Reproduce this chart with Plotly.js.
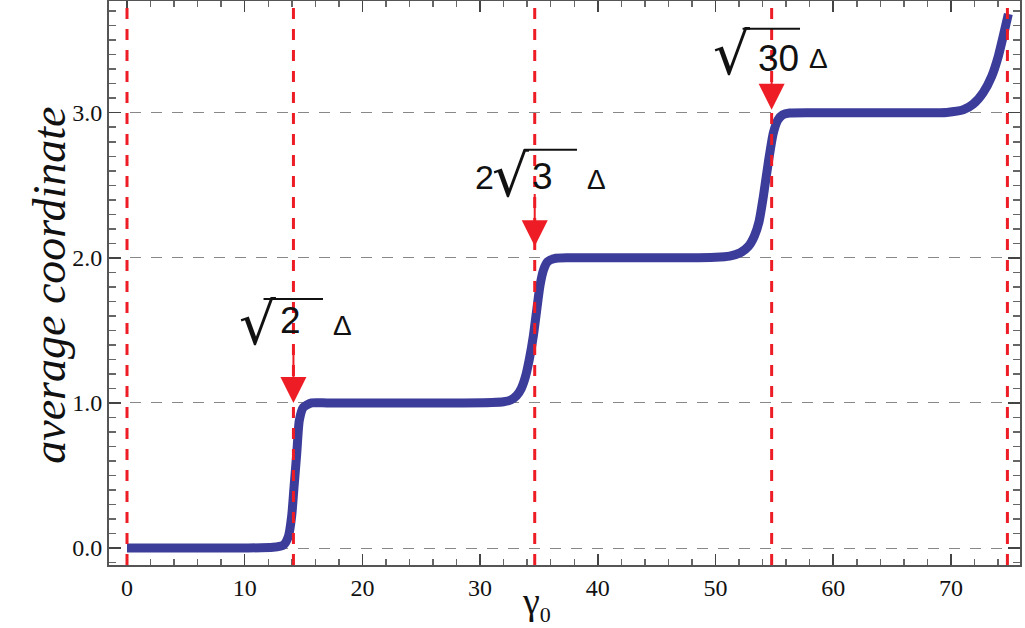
<!DOCTYPE html>
<html><head><meta charset="utf-8">
<script src="https://cdn.plot.ly/plotly-3.0.1.min.js"></script>
<style>html,body{margin:0;padding:0;background:#fff}</style>
</head><body><div id="chart" style="width:1025px;height:628px"></div>
<script>
// curve (gamma0 vs average coordinate)
const gamma0 = [0, 5, 10, 12.4, 13.28, 13.71, 13.99, 14.19, 14.42, 14.64, 14.98, 15.69, 17, 22, 28, 31,
  32.0, 32.6, 33.1, 33.5, 33.85, 34.18, 34.52, 34.81, 35.09, 35.4, 35.75, 36.3, 37.5, 42, 47,
  50.0, 51.2, 52.1, 52.8, 53.3, 53.7, 54.06, 54.49, 54.91, 55.3, 55.7, 56.3, 58.87, 63, 67,
  69.64, 71.05, 71.90, 72.75, 73.46, 74.03, 74.45, 74.88];
const avgCoord = [0, 0, 0, 0.005, 0.02, 0.08, 0.22, 0.42, 0.65, 0.88, 0.97, 1.0, 1.0, 1.0, 1.0, 1.003,
  1.008, 1.02, 1.05, 1.1, 1.18, 1.30, 1.46, 1.64, 1.81, 1.92, 1.975, 1.995, 2.0, 2.0, 2.0,
  2.004, 2.012, 2.035, 2.08, 2.15, 2.25, 2.42, 2.66, 2.86, 2.95, 2.985, 2.998, 3.0, 3.0, 3.0,
  3.002, 3.02, 3.06, 3.14, 3.25, 3.39, 3.53, 3.68];
// vertical red reference lines
const refLines = [0, 14.14, 34.64, 54.77, 74.8];
// arrows: tip x, tip y, tail y
const arrowX = [14.14, 34.64, 54.77];
const arrowTipY = [1.0, 2.08, 3.02];
const arrowTailY = [1.37, 2.45, 3.26];
// labels
const radPrefix = ['', '2', ''];
const radPrefixX = [0, 30.4, 0];
const radX = [11.05, 32.6, 51.4];
const radY = [1.545, 2.566, 3.407];
const radicand = ['2', '3', '30'];
const radicandX = [13.93, 35.34, 55.31];
const radicandY = [1.566, 2.559, 3.372];
const barX0 = [11.6, 33.75, 52.3];
const barX1 = [16.65, 38.23, 57.18];
const barY = [1.717, 2.745, 3.579];
const deltaX = [18.27, 39.93, 58.71];
const deltaY = [1.531, 2.538, 3.372];

const serif = '"Liberation Serif", "DejaVu Serif", serif';
const red = '#ee1c25';
const shapes = [];
refLines.forEach(v => shapes.push({type:'line', xref:'x', yref:'paper', x0:v, x1:v, y0:0, y1:1,
  line:{color:red, width:3, dash:'11px,10px'}, layer:'above'}));
for (let i = 0; i < barX0.length; i++) {
  shapes.push({type:'line', xref:'x', yref:'y', x0:barX0[i], x1:barX1[i], y0:barY[i], y1:barY[i],
    line:{color:'#111', width:2}});
}
const annotations = [];
for (let i = 0; i < arrowX.length; i++) {
  annotations.push({x:arrowX[i], y:arrowTipY[i], ax:arrowX[i], ay:arrowTailY[i], axref:'x', ayref:'y',
    xref:'x', yref:'y', text:'', showarrow:true, arrowhead:2, arrowsize:2.6, arrowwidth:2,
    arrowcolor:red, standoff:0});
  annotations.push({x:radX[i], y:radY[i], xref:'x', yref:'y', text:'√', showarrow:false,
    font:{family:'DejaVu Sans', size:58, color:'#111'}});
  annotations.push({x:radicandX[i], y:radicandY[i], xref:'x', yref:'y', text:radicand[i], showarrow:false,
    font:{family:'Liberation Sans', size:37, color:'#111'}});
  annotations.push({x:deltaX[i], y:deltaY[i], xref:'x', yref:'y', text:'Δ', showarrow:false,
    font:{family:'Liberation Sans', size:28, color:'#111'}});
  if (radPrefix[i]) annotations.push({x:radPrefixX[i], y:radicandY[i], xref:'x', yref:'y', text:radPrefix[i],
    showarrow:false, font:{family:'Liberation Sans', size:34, color:'#111'}});
}
annotations.push({xref:'paper', yref:'paper', x:-0.0955, y:0.496, text:'<i>average coordinate</i>',
  textangle:-90, showarrow:false, font:{family:serif, size:46, color:'#111'}});
annotations.push({xref:'x', yref:'paper', x:34.8, y:-0.068, yanchor:'middle', xanchor:'center',
  text:'γ<sub><span style="font-size:22px">0</span></sub>',
  showarrow:false, font:{family:serif, size:38, color:'#111'}});

const trace = {x:gamma0, y:avgCoord, mode:'lines', line:{color:'#3c3c9a', width:9, shape:'spline', smoothing:0.6},
  hoverinfo:'skip'};

const axisCommon = {showline:true, linecolor:'#555', linewidth:2, mirror:'ticks', ticks:'inside',
  tickcolor:'#444', tickwidth:1.5, zeroline:false,
  tickfont:{family:serif, size:24, color:'#111'}};

const layout = {
  width:1025, height:628, margin:{l:109, r:5, t:1, b:63},
  paper_bgcolor:'#fff', plot_bgcolor:'#fff', showlegend:false,
  font:{family:serif},
  xaxis: Object.assign({}, axisCommon, {range:[-1.53, 75.87], dtick:10, tick0:0, ticklen:11,
    showgrid:false, minor:{dtick:2, ticklen:6, tickcolor:'#666', ticks:'inside', showgrid:false}}),
  yaxis: Object.assign({}, axisCommon, {range:[-0.117, 3.77], dtick:1, tick0:0, ticklen:12, tickformat:'.1f',
    showgrid:true, gridcolor:'#888', griddash:'11px,10px', gridwidth:1,
    minor:{dtick:0.1, ticklen:7, tickcolor:'#666', ticks:'inside', showgrid:false}}),
  shapes: shapes, annotations: annotations
};
Plotly.newPlot('chart', [trace], layout, {displayModeBar:false, staticPlot:true});
</script></body></html>
